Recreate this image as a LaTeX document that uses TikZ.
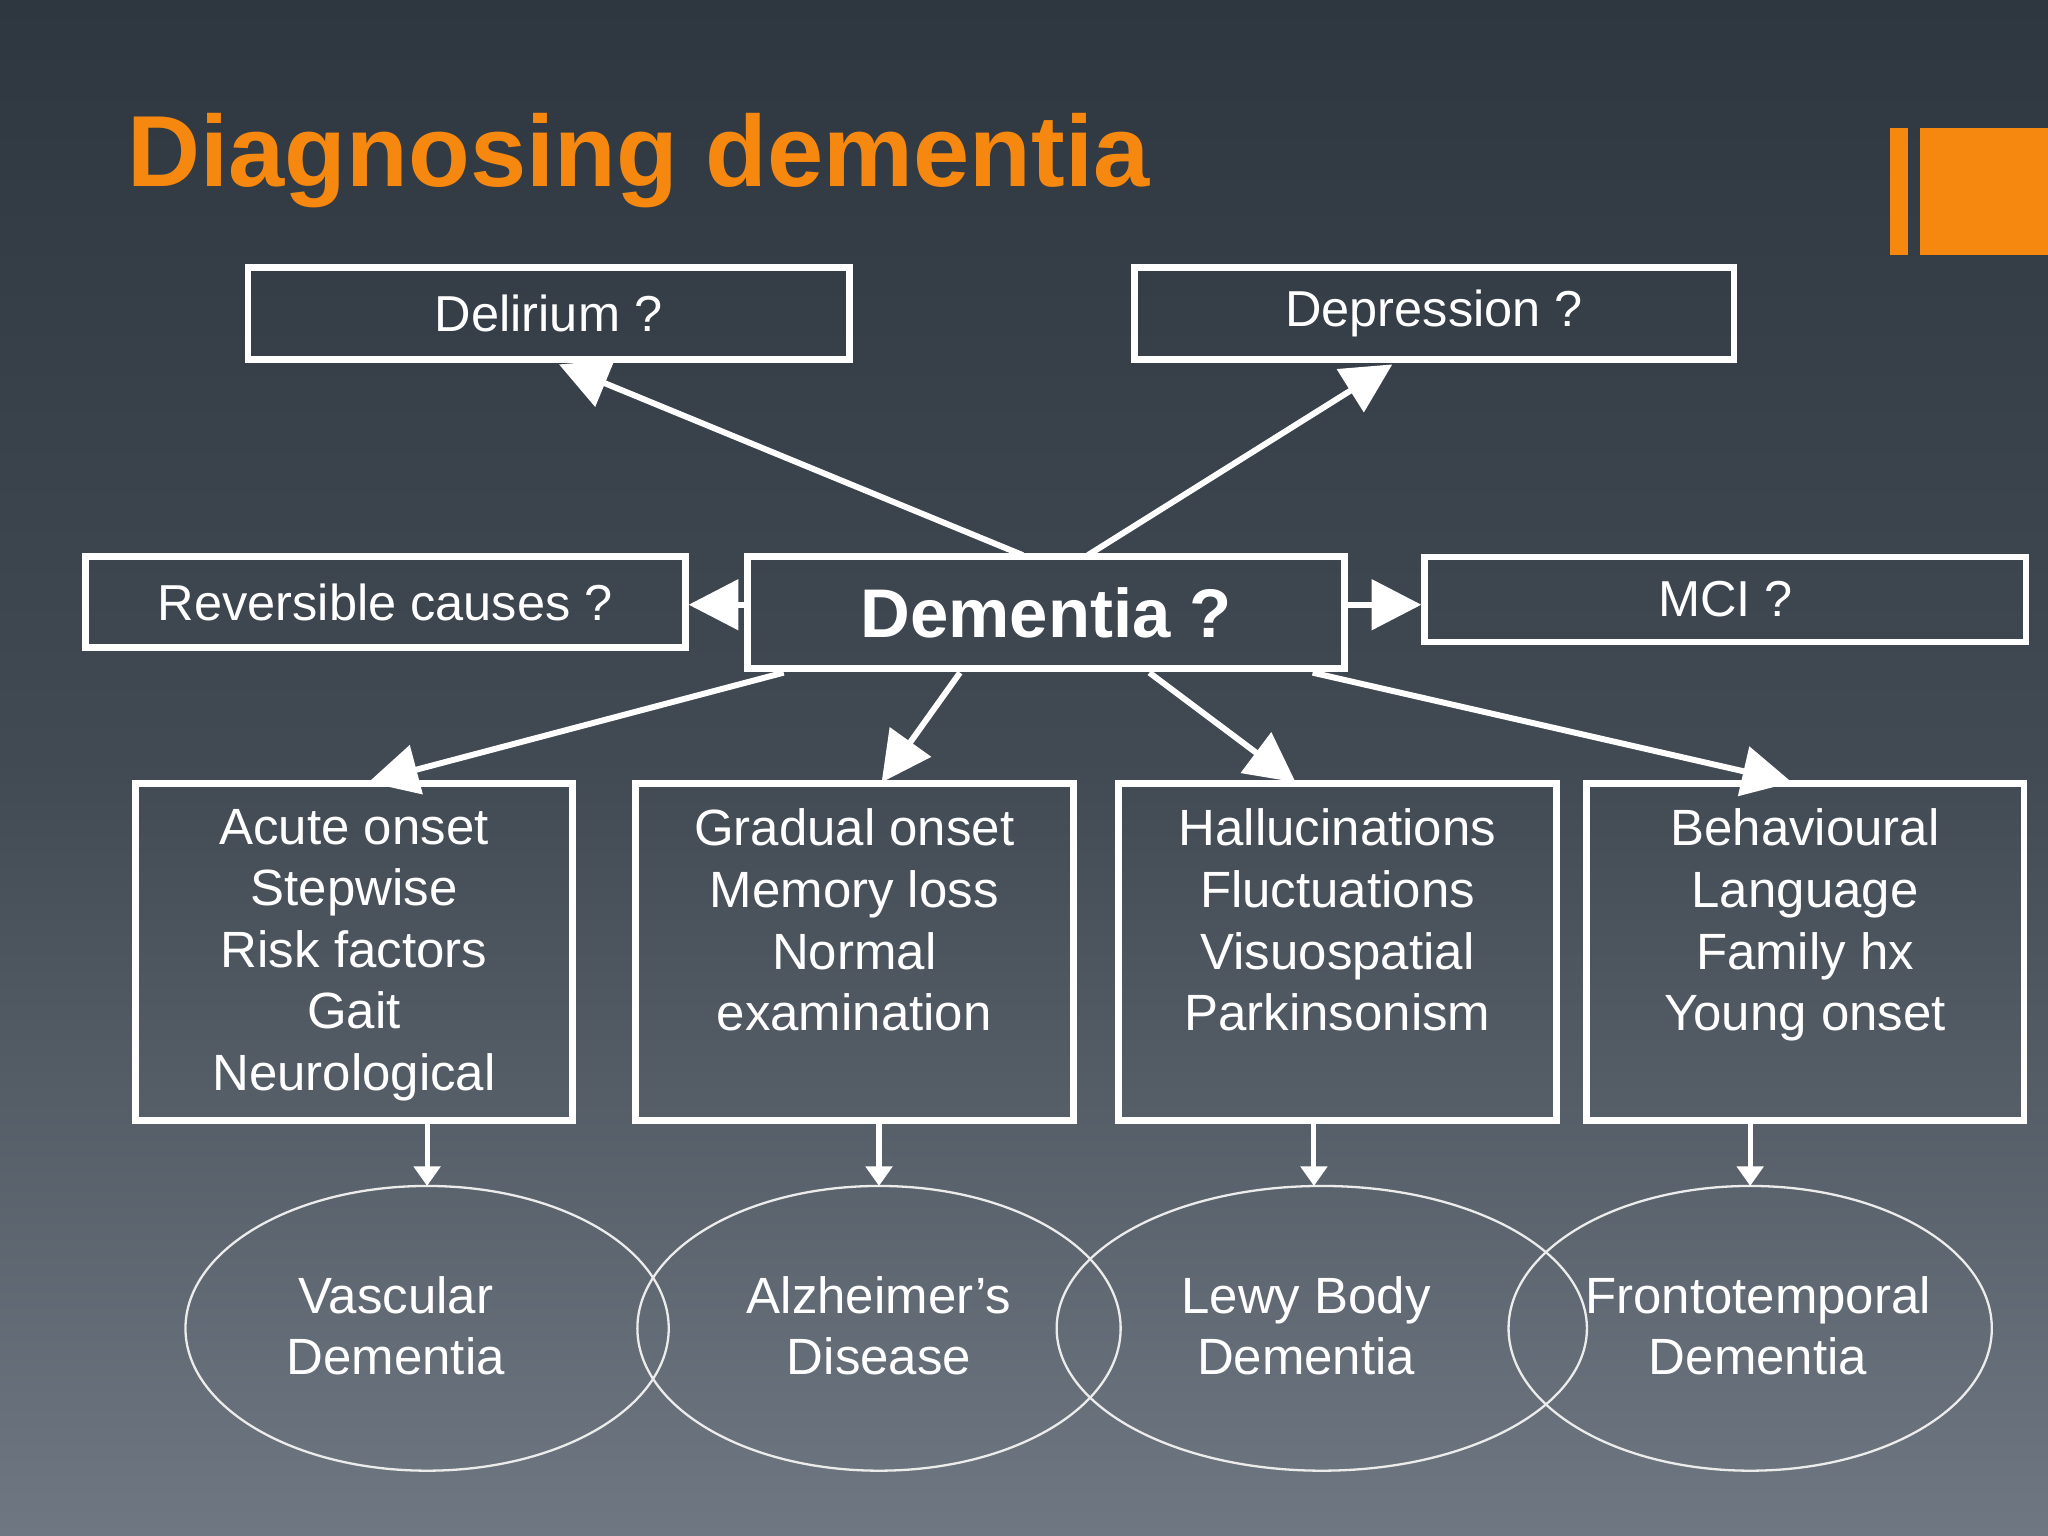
\documentclass[tikz,border=0pt]{standalone}
\usepackage{fontspec}
\setmainfont{Liberation Sans}
\usetikzlibrary{arrows.meta}
\definecolor{orng}{HTML}{F7880F}
\definecolor{bgtop}{HTML}{2E363F}
\definecolor{bgbot}{HTML}{6F7882}
\begin{document}
\begin{tikzpicture}[x=0.01cm,y=-0.01cm,
  box/.style={draw=white,line width=1.5pt,inner sep=0pt,text=white},
  ell/.style={draw=white!85!gray,line width=0.5pt},
  big/.style={white,line width=1.3pt,-{Triangle[length=0.38cm,width=0.38cm]}},
  small/.style={white,line width=1.1pt,-{Triangle[length=0.15cm,width=0.2cm]}},
  lbl/.style={text=white,font=\fontsize{11.1}{13.4}\selectfont,align=center}]
\shade[top color=bgtop,bottom color=bgbot,middle color=bgtop!70!bgbot] (0,0) rectangle (1568,1176);
\useasboundingbox (0,0) rectangle (1568,1176);
% title and mark
\node[anchor=base west,inner sep=0pt,text=orng,font=\fontsize{22}{26}\selectfont\bfseries] (title) at (97,143) {Diagnosing dementia};
\fill[orng] (1447,98) rectangle (1461,195);
\fill[orng] (1470,98) rectangle (1568,195);
% boxes
\node[box,minimum width=4.6cm,minimum height=0.71cm,font=\fontsize{11}{13}\selectfont] (del) at (420,240) {Delirium ?};
\node[box,minimum width=4.59cm,minimum height=0.71cm,font=\fontsize{11}{13}\selectfont] (dep) at (1098,240) {Depression ?};
\node[box,minimum width=4.59cm,minimum height=0.7cm,font=\fontsize{11}{13}\selectfont] (rev) at (295,461) {Reversible causes ?};
\node[box,minimum width=4.57cm,minimum height=0.86cm,font=\fontsize{15}{17}\selectfont\bfseries] (dem) at (801,469) {Dementia ?};
\node[box,minimum width=4.6cm,minimum height=0.65cm,font=\fontsize{11}{13}\selectfont] (mci) at (1321,459) {MCI ?};
% criteria boxes
\foreach \n/\x in {b1/271,b2/654,b3/1024,b4/1382}
  \node[box,minimum width=3.35cm,minimum height=2.58cm] (\n) at (\x,729) {};
\node[lbl,anchor=north] at (271,607) {Acute onset\\Stepwise\\Risk factors\\Gait\\Neurological};
\node[lbl,anchor=north] at (654,607) {Gradual onset\\Memory loss\\Normal\\examination};
\node[lbl,anchor=north] at (1024,607) {Hallucinations\\Fluctuations\\Visuospatial\\Parkinsonism};
\node[lbl,anchor=north] at (1382,607) {Behavioural\\Language\\Family hx\\Young onset};
% ellipses
\draw[ell] (327,1017) ellipse [x radius=185,y radius=109];
\draw[ell] (673,1017) ellipse [x radius=185,y radius=109];
\draw[ell] (1012,1017) ellipse [x radius=203,y radius=109];
\draw[ell] (1340,1017) ellipse [x radius=185,y radius=109];
\node[lbl] (e1) at (303,1015) {Vascular\\Dementia};
\node[lbl] (e2) at (673,1015) {Alzheimer’s\\Disease};
\node[lbl] (e3) at (1000,1015) {Lewy Body\\Dementia};
\node[lbl] (e4) at (1346,1015) {Frontotemporal\\Dementia};
% arrow endpoints
\coordinate (c1) at (327,908); \coordinate (c2) at (673,908);
\coordinate (c3) at (1006,908); \coordinate (c4) at (1340,908);
\draw[small] (b1.south -| c1) -- (c1);
\draw[small] (b2.south -| c2) -- (c2);
\draw[small] (b3.south -| c3) -- (c3);
\draw[small] (b4.south -| c4) -- (c4);
\coordinate (d1) at (783,425); \coordinate (d2) at (833,425);
\coordinate (t1) at (428,279); \coordinate (t2) at (1066,279);
\draw[big] (d1) -- (t1);
\draw[big] (d2) -- (t2);
\draw[big] (dem.west) ++(0,-6) -- (rev.east |- 0,463);
\draw[big] (dem.east) ++(0,-6) -- (mci.west |- 0,463);
\coordinate (s1) at (600,515); \coordinate (s2) at (735,515);
\coordinate (s3) at (880,515); \coordinate (s4) at (1005,515);
\coordinate (u1) at (282,599); \coordinate (u2) at (675,599);
\coordinate (u3) at (992,599); \coordinate (u4) at (1372,599);
\draw[big] (s1) -- (u1);
\draw[big] (s2) -- (u2);
\draw[big] (s3) -- (u3);
\draw[big] (s4) -- (u4);
\end{tikzpicture}
\end{document}
